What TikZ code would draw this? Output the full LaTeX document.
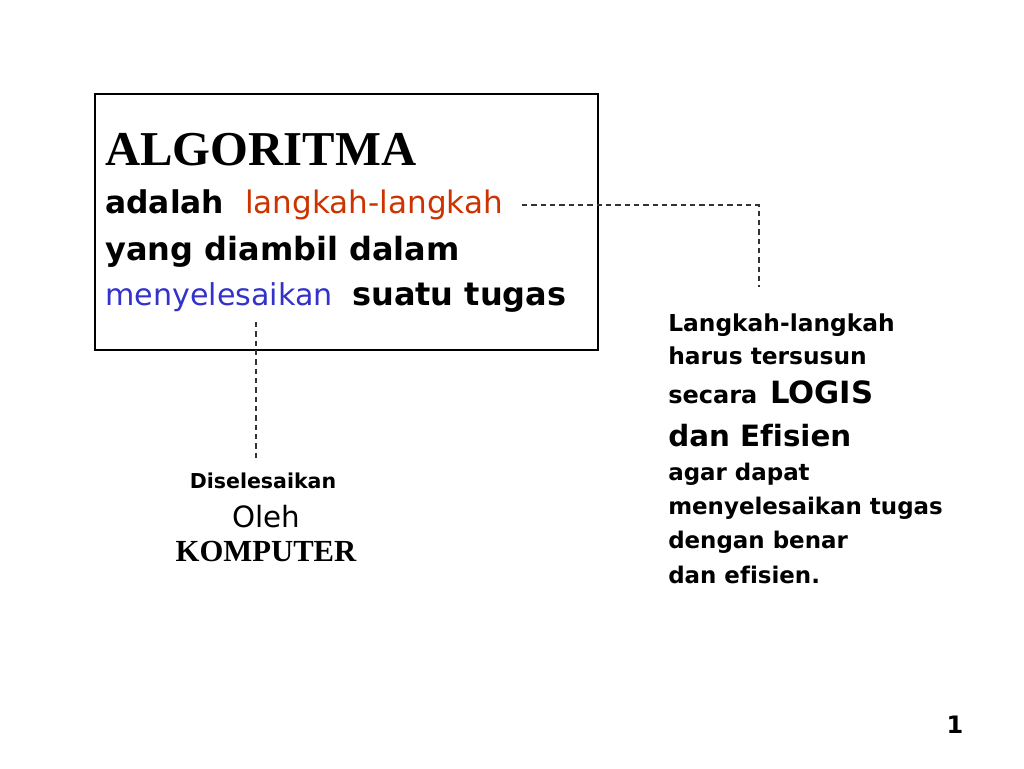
\documentclass[tikz,border=0pt]{standalone}
\usepackage{fontspec}
\setmainfont{Liberation Serif}
\newfontfamily\cs{DejaVu Sans}[Ligatures={NoCommon}]
\definecolor{orangered}{HTML}{CC3300}
\definecolor{blueish}{HTML}{3333CC}
\tikzset{
  txt/.style={inner sep=0pt, anchor=base west, font=\cs\bfseries},
  conn/.style={draw=black!80, line width=0.8pt, dash pattern=on 4pt off 3pt},
}
\newcommand{\fsz}[1]{\fontsize{#1}{#1}\selectfont}
\begin{document}
\begin{tikzpicture}[x=0.75pt,y=-0.75pt]
\useasboundingbox[fill=white] (0,0) rectangle (1024,768);
% box
\node[draw, line width=1.5pt, minimum width=503*0.75pt, minimum height=256*0.75pt, inner sep=0pt, anchor=north west] (box) at (94,93) {};
% box text
\node[inner sep=0pt, anchor=base west, font=\rmfamily\bfseries\fsz{36.5pt}] (alg) at (105,165) {ALGORITMA};
\node[txt, font=\cs\bfseries\fsz{23.5pt}] (adalah) at (105,213) {adalah};
\node[txt, font=\cs\fsz{23.3pt}, text=orangered] (lk) at (245,213) {langkah-langkah};
\node[txt, font=\cs\bfseries\fsz{24pt}] (yang) at (105,260) {yang diambil dalam};
\node[txt, font=\cs\fsz{22.6pt}, text=blueish] (meny) at (105,305) {menyelesaikan};
\node[txt, font=\cs\bfseries\fsz{24pt}] (suatu) at (352,305) {suatu tugas};
% right text
\node[txt, font=\cs\bfseries\fsz{17.5pt}] (r1) at (668,331) {Langkah-langkah};
\node[txt, font=\cs\bfseries\fsz{17.5pt}] (r2) at (668,364) {harus tersusun};
\node[txt, font=\cs\bfseries\fsz{18pt}] (r3) at (668,403) {secara};
\node[txt, font=\cs\bfseries\fsz{23pt}] (logis) at (770,403) {LOGIS};
\node[txt, font=\cs\bfseries\fsz{22pt}] (r4) at (668,446) {dan Efisien};
\node[txt, font=\cs\bfseries\fsz{17.2pt}] (r5) at (668,480) {agar dapat};
\node[txt, font=\cs\bfseries\fsz{17.2pt}] (r6) at (668,514) {menyelesaikan tugas};
\node[txt, font=\cs\bfseries\fsz{17.2pt}] (r7) at (668,548) {dengan benar};
\node[txt, font=\cs\bfseries\fsz{17.2pt}] (r8) at (668,583) {dan efisien.};
% bottom text
\node[inner sep=0pt, anchor=base, font=\cs\bfseries\fsz{15.4pt}] (dis) at (263,488) {Diselesaikan};
\node[inner sep=0pt, anchor=base, font=\cs\fsz{22pt}] (oleh) at (266,527) {Oleh};
\node[inner sep=0pt, anchor=base, font=\rmfamily\bfseries\fsz{23pt}] (komp) at (266,561) {KOMPUTER};
% page number
\node[inner sep=0pt, anchor=base, font=\cs\bfseries\fsz{18pt}] (pg) at (955,733) {1};
% connectors
\coordinate (c1) at (522,205);
\coordinate (c2) at (759,205);
\coordinate (c3) at (759,287);
\coordinate (b1) at (256,322);
\coordinate (b2) at (256,460);
\draw[conn] (c1) -- (c2) -- (c3);
\draw[conn] (b1) -- (b2);
\end{tikzpicture}
\end{document}
